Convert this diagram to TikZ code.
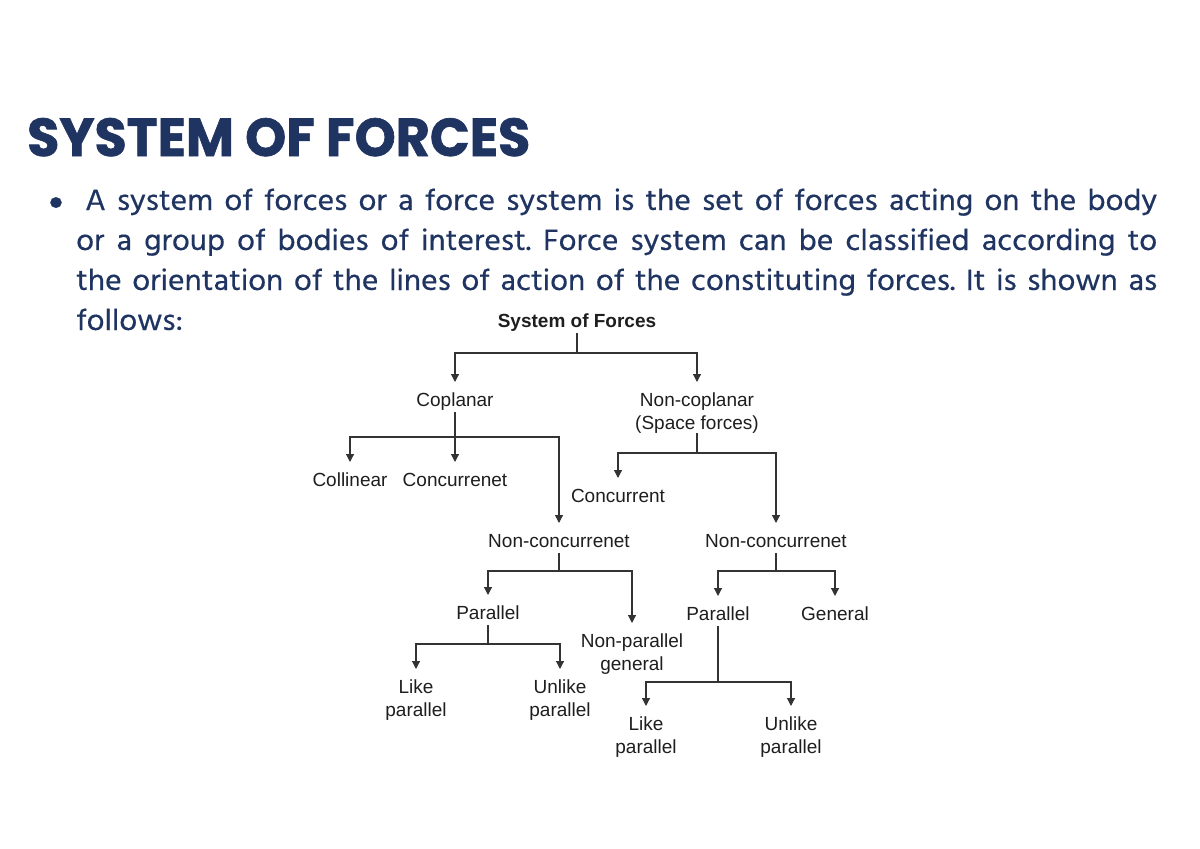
\documentclass[tikz,border=0pt]{standalone}
\usepackage{fontspec}
\usepackage{graphicx}
\setmainfont{Liberation Sans}
\newfontfamily\titlefont{Poppins}[BoldFeatures={FakeBold=1.2}]
\newfontfamily\bodyfont{Hind Siliguri}[FakeStretch=1.06, FakeBold=0.4]
\usetikzlibrary{arrows.meta}
\definecolor{SlideNavy}{HTML}{1F3461}
\definecolor{TreeInk}{HTML}{1E1E1E}

\begin{document}
\begin{tikzpicture}[x=1pt, y=-1pt,
    heading/.style={anchor=base west, inner sep=0pt, text=SlideNavy,
                    font=\titlefont\bfseries},
    para/.style={anchor=base west, inner sep=0pt, text=SlideNavy,
                 font=\bodyfont\fontsize{30}{40}\selectfont\frenchspacing},
    root/.style={anchor=base, inner xsep=0pt, inner ysep=2pt, text=TreeInk,
                 font=\fontsize{19}{23}\selectfont\bfseries},
    kind/.style={anchor=north, align=center, inner xsep=0pt, inner ysep=0pt,
                 text height=24pt, text depth=6pt, text=TreeInk,
                 font=\fontsize{19}{23}\selectfont},
    kindtwo/.style={anchor=north, align=center, inner xsep=0pt, inner ysep=0pt,
                    text height=47pt, text=TreeInk,
                    font=\fontsize{19}{23}\selectfont},
    ar/.style={-{Triangle[length=8pt,width=8pt]}, line width=1.2pt, draw=black!80},
  ]
    \useasboundingbox[fill=white] (0,0) rectangle (1200,849);

    % ── Heading and text ─────────────────────────────────────────────────
    \node[heading] (ttl) at (27,156)
      {\resizebox{503pt}{38pt}{SYSTEM OF FORCES}};
    \node[para, anchor=center] (dot) at (56,207) {\fontsize{40}{40}\selectfont\textbullet};
    \node[para] (l1) at (85,210)
      {\makebox[1072pt][s]{A system of forces or a force system is the set of forces acting on the body}};
    \node[para] (l2) at (76,250)
      {\makebox[1081pt][s]{or a group of bodies of interest. Force system can be classified according to}};
    \node[para] (l3) at (76,290)
      {\makebox[1081pt][s]{the orientation of the lines of action of the constituting forces. It is shown as}};
    \node[para] (l4) at (76,330) {follows:};

    % ── Tree: top levels ─────────────────────────────────────────────────
    \node[root] (sof) at (577,327) {System of Forces};
    \node[kind]    (cop)  at (455,382) {Coplanar};
    \node[kindtwo] (ncop) at (697,382) {Non-coplanar\\(Space forces)};

    \node[kind] (col)  at (350,462) {Collinear};
    \node[kind] (ccn)  at (455,462) {Concurrenet};
    \node[kind] (nccl) at (559,523) {Non-concurrenet};
    \node[kind] (ccr)  at (618,478) {Concurrent};
    \node[kind] (nccr) at (776,523) {Non-concurrenet};

    % ── Tree: lower levels ───────────────────────────────────────────────
    \node[kind]    (parl)  at (488,595) {Parallel};
    \node[kindtwo] (npg)   at (632,623) {Non-parallel\\general};
    \node[kindtwo] (likel) at (416,669) {Like\\parallel};
    \node[kindtwo] (unll)  at (560,669) {Unlike\\parallel};

    \node[kind]    (parr)  at (718,596) {Parallel};
    \node[kind]    (gen)   at (835,596) {General};
    \node[kindtwo] (liker) at (646,706) {Like\\parallel};
    \node[kindtwo] (unlr)  at (791,706) {Unlike\\parallel};

    % ── Connectors: stem, bar, drop ──────────────────────────────────────
    \foreach \a/\b/\y in {sof/cop/353, sof/ncop/353,
                          cop/col/437, cop/ccn/437, cop/nccl/437,
                          ncop/ccr/453, ncop/nccr/453,
                          nccl/parl/571, nccl/npg/571,
                          nccr/parr/571, nccr/gen/571,
                          parl/likel/644, parl/unll/644,
                          parr/liker/682, parr/unlr/682}
      \draw[ar] (\a.south) -- (\a.south |- 0,\y) -| (\b.north);
\end{tikzpicture}
\end{document}
